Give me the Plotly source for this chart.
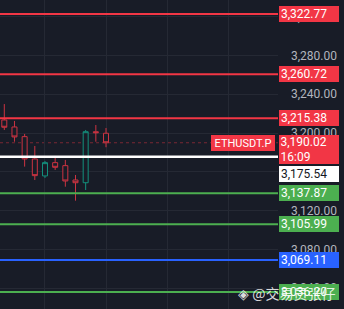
import plotly.graph_objects as go

# ---- data ----
candle_idx = list(range(11))
opens  = [3213.5, 3206.3, 3196.3, 3173.3, 3155.8, 3169.5, 3166.4, 3151.6, 3148.8, 3201.4, 3199.8]
highs  = [3229.9, 3212.5, 3199.1, 3186.7, 3171.2, 3176.4, 3172.3, 3156.8, 3203.2, 3208.3, 3205.2]
lows   = [3203.2, 3191.1, 3165.4, 3151.6, 3153.7, 3162.0, 3144.7, 3130.3, 3141.3, 3191.1, 3185.4]
closes = [3206.0, 3196.0, 3173.3, 3156.1, 3169.5, 3164.7, 3150.6, 3148.8, 3201.4, 3200.4, 3190.02]

level_values = [3322.77, 3260.72, 3215.38, 3175.54, 3137.87, 3105.99, 3069.11, 3036.20]
level_kinds  = ["red", "red", "red", "white", "green", "green", "blue", "green"]

last_price = 3190.02
last_time = "16:09"
symbol = "ETHUSDT.P"
y_ticks = [3040, 3080, 3120, 3160, 3200, 3240, 3280, 3320]
watermark = "◈ @交易员张仔"

# ---- styling ----
BG = "#181c27"
GRID = "#252934"
COLORS = {"red": "#f23645", "white": "#ffffff", "green": "#4caf50", "blue": "#2962ff"}
TEXTC = {"red": "#ffffff", "white": "#131722", "green": "#ffffff", "blue": "#ffffff"}
FONT = "Roboto, Liberation Sans, Arial"

fig = go.Figure()

fig.add_trace(go.Candlestick(
    x=candle_idx, open=opens, high=highs, low=lows, close=closes,
    increasing=dict(line=dict(color="#14907d", width=1), fillcolor=BG),
    decreasing=dict(line=dict(color="#cc3442", width=1), fillcolor=BG),
    whiskerwidth=0, showlegend=False, hoverinfo="skip",
))

shapes = []
# dotted last-price line
shapes.append(dict(type="line", xref="x domain", yref="y", x0=0, x1=1,
                   y0=last_price, y1=last_price,
                   line=dict(color="rgba(242,54,69,0.45)", width=1, dash="dot"), layer="below"))
for v, k in zip(level_values, level_kinds):
    shapes.append(dict(type="line", xref="x domain", yref="y", x0=0, x1=1, y0=v, y1=v,
                       line=dict(color=COLORS[k], width=2 if k != "white" else 2.5)))

annotations = []
LBL_X = 279 / 344
for v, k in zip(level_values, level_kinds):
    ys = -17.5 if k == "white" else 0
    annotations.append(dict(
        xref="paper", yref="y", x=LBL_X, y=v, xanchor="left", yanchor="middle",
        yshift=ys, text=f"{v:,.2f}", showarrow=False, align="left",
        font=dict(family=FONT, size=12, color=TEXTC[k]),
        bgcolor=COLORS[k], borderwidth=0, borderpad=2, width=56, height=12,
    ))

# last price label (two lines)
annotations.append(dict(
    xref="paper", yref="y", x=LBL_X, y=last_price, xanchor="left", yanchor="middle",
    yshift=-7, text=f"{last_price:,.2f}<br>{last_time}", showarrow=False, align="left",
    font=dict(family=FONT, size=12, color="#ffffff"),
    bgcolor="#f23645", borderwidth=0, borderpad=1.5, width=57, height=26,
))
# symbol label
annotations.append(dict(
    xref="paper", yref="y", x=275 / 344, y=last_price, xanchor="right", yanchor="middle",
    text=symbol, showarrow=False,
    font=dict(family=FONT, size=11, color="#ffffff"),
    bgcolor="#f23645", borderwidth=0, borderpad=2, width=60, height=12,
))
# watermark
annotations.append(dict(
    xref="paper", yref="paper", x=236 / 344, y=1 - 293 / 309, xanchor="left", yanchor="middle",
    text=watermark, showarrow=False,
    font=dict(family="Noto Sans CJK SC", size=14, color="rgba(255,255,255,0.85)"),
))

fig.update_layout(
    width=344, height=309, margin=dict(l=0, r=0, t=0, b=0),
    paper_bgcolor=BG, plot_bgcolor=BG,
    shapes=shapes, annotations=annotations,
    xaxis=dict(domain=[0, 278 / 344], range=[-0.423, 26.91], rangeslider=dict(visible=False),
               showticklabels=False, tickvals=[4, 10, 16, 22], showgrid=True,
               gridcolor=GRID, gridwidth=1, zeroline=False, showline=False, fixedrange=True),
    yaxis=dict(side="right", range=[3018.6, 3337.2], tickvals=y_ticks, tickformat=",.2f",
               showgrid=True, gridcolor=GRID, gridwidth=1, zeroline=False, showline=False,
               ticks="", ticklabelstandoff=12,
               tickfont=dict(family=FONT, size=12, color="#b2b5be")),
    showlegend=False,
)

fig.write_html("out.html")
